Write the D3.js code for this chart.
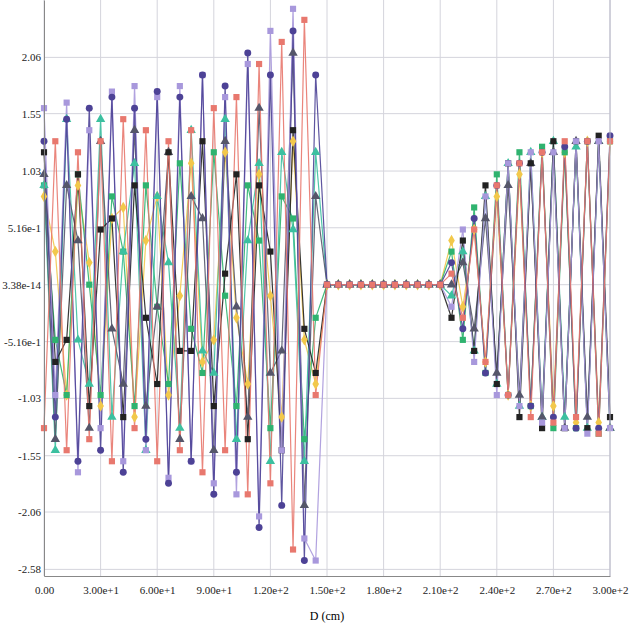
<!DOCTYPE html><html><head><meta charset="utf-8"><script src="https://cdn.jsdelivr.net/npm/d3@7"></script>
<style>body{margin:0;background:#fff}</style></head><body><svg id="c" width="640" height="626"></svg>
<script>
const Z = [0,0,0,0,0,0,0,0,0,0];
const xValues = Array.from({length:51},(_, i)=>i*6);
const yTickValues = [2.06,1.55,1.03,0.516,0,-0.516,-1.03,-1.55,-2.06,-2.58];
const yTickLabels = ["2.06","1.55","1.03","5.16e-1","3.38e-14","-5.16e-1","-1.03","-1.55","-2.06","-2.58"];
const xTickValues = [0,30,60,90,120,150,180,210,240,270,300];
const xTickLabels = ["0.00","3.00e+1","6.00e+1","9.00e+1","1.20e+2","1.50e+2","1.80e+2","2.10e+2","2.40e+2","2.70e+2","3.00e+2"];
const sA = [1.3,-1.2,1.5,-1.6,1.6,-1.5,1.7,-1.7,1.6,-1.4,1.75,-1.8,1.7,-1.6,1.9,-1.9,1.8,-1.7,2.1,-2.2,1.9,-2.0,2.3,-2.5,1.9,0,...Z,0.2,-0.4,0.6,-0.8,0.9,-1.0,1.1,-1.1,1.2,-1.2,1.25,-1.3,1.3,-1.3,1.35];
const sB = [1.6,-1.0,1.65,-1.7,1.4,-1.3,1.75,-1.6,1.8,-1.5,1.7,-1.75,1.8,-1.6,1.9,-1.8,1.7,-1.9,2.0,-2.1,2.3,-1.5,2.5,-2.3,-2.5,0,...Z,-0.2,0.5,-0.7,0.8,-1.0,1.1,-1.1,1.2,-1.25,1.2,-1.3,1.3,-1.35,1.3,-1.3];
const sC = [-1.3,1.3,-1.5,1.2,-1.4,1.3,-1.6,1.5,-1.3,1.4,-1.6,1.3,-1.5,1.4,-1.7,1.6,-1.5,1.7,-1.9,2.0,-1.8,2.2,-2.4,2.4,-1.0,0,...Z,0.1,-0.3,0.5,-0.7,0.9,-1.0,1.1,-1.2,1.2,-1.25,1.3,-1.2,1.3,-1.35,1.3];
const sD = [0.9,-1.5,1.5,-0.5,-0.9,1.5,-1.2,0.3,1.1,-1.5,0.8,0.2,-1.3,1.4,-0.6,-0.8,1.5,-1.4,0.4,1.1,-1.6,1.2,0.5,-1.6,1.2,0,...Z,-0.1,0.3,-0.6,0.8,-0.9,1.1,-1.1,1.2,-1.2,1.3,-1.2,1.25,-1.3,1.3,-1.3];
const sE = [0.9,-0.5,-1.0,1.0,0.0,-1.0,0.8,0.3,-1.1,0.9,-0.2,-0.9,1.1,-0.4,-0.8,1.2,-0.1,-1.1,0.9,0.4,-1.3,0.8,0.6,-1.4,-0.3,0,...Z,0.3,-0.5,0.7,-0.8,1.0,-1.0,1.2,-1.1,1.25,-1.3,1.2,-1.3,1.3,-1.35,1.3];
const sF = [0.8,0.3,-1.0,0.9,0.2,-1.1,0.6,0.7,-1.2,0.4,0.8,-1.0,-0.1,1.1,-0.7,-0.5,1.2,-0.3,-0.9,1.0,-0.1,-1.2,1.3,-0.5,-0.9,0,...Z,0.4,-0.2,0.5,-0.7,0.8,-1.0,1.0,-1.1,1.2,-1.1,1.2,-1.25,1.3,-1.25,1.3];
const sG = [1.2,-0.7,-0.5,1.0,-1.1,0.5,0.6,-1.2,0.9,-0.3,-0.9,1.2,-0.6,-0.6,1.3,-1.1,0.1,1.0,-1.4,0.9,0.3,-1.5,1.4,-0.4,-0.8,0,...Z,-0.3,0.4,-0.6,0.9,-0.9,1.1,-1.2,1.1,-1.3,1.3,-1.3,1.3,-1.3,1.35,-1.2];
const sH = [1.0,-1.4,0.9,0.4,-1.3,1.3,-0.4,-0.9,1.4,-1.1,-0.2,1.2,-1.4,0.8,0.6,-1.5,1.3,-0.2,-1.2,1.6,-0.8,-0.6,2.1,-2.0,0.8,0,...Z,0.0,0.2,-0.4,0.6,-0.8,0.9,-1.0,1.1,-1.2,1.2,-1.3,1.3,-1.2,1.3,-1.3];
const series = [
 {v:sF,c:"#f2c84b",s:d3.symbolDiamond},
 {v:sE,c:"#2fb36f",s:d3.symbolSquare},
 {v:sD,c:"#3cc0a0",s:d3.symbolTriangle},
 {v:sH,c:"#55566a",s:d3.symbolTriangle},
 {v:sG,c:"#222222",s:d3.symbolSquare},
 {v:sB,c:"#a898dc",s:d3.symbolSquare},
 {v:sA,c:"#4d4296",s:d3.symbolCircle},
 {v:sC,c:"#e8786e",s:d3.symbolSquare}
];
const svg=d3.select("#c");
const x=d3.scaleLinear().domain([0,300]).range([44,610]);
const y=d3.scaleLinear().domain([-2.64,2.58]).range([576,0]);
const g=svg.append("g");
g.selectAll(".vg").data(xTickValues).join("line").attr("x1",d=>x(d)).attr("x2",d=>x(d)).attr("y1",0).attr("y2",576).attr("stroke","#d4d4dc");
g.selectAll(".hg").data(yTickValues).join("line").attr("x1",44).attr("x2",610).attr("y1",d=>y(d)).attr("y2",d=>y(d)).attr("stroke","#d4d4dc");
const line=d3.line().x((d,i)=>x(xValues[i])).y(d=>y(d));
series.forEach(se=>{
  svg.append("path").attr("d",line(se.v)).attr("fill","none").attr("stroke",se.c).attr("stroke-width",1.2).attr("opacity",0.9);
});
series.forEach(se=>{
  svg.append("g").selectAll("path").data(se.v).join("path")
   .attr("transform",(d,i)=>`translate(${x(xValues[i])},${y(d)})`)
   .attr("d",d3.symbol().type(se.s).size(38)).attr("fill",se.c);
});
const xa=svg.append("g").attr("transform","translate(0,576)").call(d3.axisBottom(x).tickValues(xTickValues).tickFormat((d,i)=>xTickLabels[i]).tickSize(0).tickPadding(10));
const ya=svg.append("g").attr("transform","translate(44,0)").call(d3.axisLeft(y).tickValues(yTickValues).tickFormat((d,i)=>yTickLabels[i]).tickSize(0).tickPadding(3));
[xa,ya].forEach(a=>{a.selectAll("text").attr("font-family","Liberation Serif").attr("font-size",11).attr("fill","#222");a.select(".domain").attr("stroke","#888");});
svg.append("line").attr("x1",610).attr("x2",610).attr("y1",0).attr("y2",576).attr("stroke","#b8b8c8");
svg.append("text").attr("x",327).attr("y",620).attr("text-anchor","middle").attr("font-family","Liberation Serif").attr("font-size",12).text("D (cm)");
</script></body></html>
